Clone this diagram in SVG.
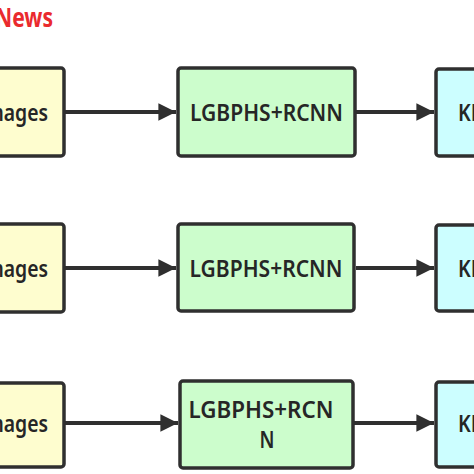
<svg xmlns="http://www.w3.org/2000/svg" width="474" height="474" viewBox="0 0 474 474">
<style>
.box{stroke:#2f2f2f;stroke-width:3.5}
.y{fill:#fefdcf}
.g{fill:#ccfdcc}
.b{fill:#ccfeff}
.t{font-family:"Noto Sans","Open Sans",sans-serif;font-weight:600;font-size:24px;fill:#262626}
.c{stroke:#2f2f2f;stroke-width:4;fill:none}
.title{font-family:"Noto Sans","Open Sans",sans-serif;font-weight:700;font-size:26px;fill:#ea2a2e}
</style>
<defs>
<marker id="ah" viewBox="0 0 10 10" refX="10" refY="5" markerWidth="4.6" markerHeight="4.4" markerUnits="strokeWidth" orient="auto">
<path d="M0,0 L10,5 L0,10 Z" fill="#2f2f2f"/>
</marker>
</defs>
<rect width="474" height="474" fill="#ffffff"/>
<text class="title" x="53" y="27" text-anchor="end" textLength="58" lengthAdjust="spacingAndGlyphs">News</text>
<g id="connectors">
<line class="c" x1="65" y1="112" x2="176" y2="112" marker-end="url(#ah)"/>
<line class="c" x1="356" y1="112" x2="434" y2="112" marker-end="url(#ah)"/>
<line class="c" x1="65" y1="268" x2="176" y2="268" marker-end="url(#ah)"/>
<line class="c" x1="356" y1="268" x2="434" y2="268" marker-end="url(#ah)"/>
<line class="c" x1="65" y1="423" x2="178" y2="423" marker-end="url(#ah)"/>
<line class="c" x1="354" y1="423" x2="434" y2="423" marker-end="url(#ah)"/>
</g>
<g id="images1"><rect class="box y" x="-60" y="68" width="124" height="88" rx="3"/><text class="t" x="48" y="121" text-anchor="end" textLength="70" lengthAdjust="spacingAndGlyphs">Images</text></g>
<g id="lgbphs1"><rect class="box g" x="178" y="68" width="177" height="88" rx="3"/><text class="t" x="266.5" y="121" text-anchor="middle" textLength="153" lengthAdjust="spacingAndGlyphs">LGBPHS+RCNN</text></g>
<g id="knn1"><rect class="box b" x="436" y="69" width="80" height="87" rx="3"/><text class="t" x="458" y="121" textLength="44" lengthAdjust="spacingAndGlyphs">KNN</text></g>
<g id="images2"><rect class="box y" x="-60" y="224" width="124" height="88" rx="3"/><text class="t" x="48" y="277" text-anchor="end" textLength="70" lengthAdjust="spacingAndGlyphs">Images</text></g>
<g id="lgbphs2"><rect class="box g" x="178" y="224" width="176" height="87" rx="3"/><text class="t" x="266" y="277" text-anchor="middle" textLength="153" lengthAdjust="spacingAndGlyphs">LGBPHS+RCNN</text></g>
<g id="knn2"><rect class="box b" x="436" y="225" width="80" height="86" rx="3"/><text class="t" x="458" y="277" textLength="44" lengthAdjust="spacingAndGlyphs">KNN</text></g>
<g id="images3"><rect class="box y" x="-60" y="383" width="124" height="84" rx="3"/><text class="t" x="48" y="432" text-anchor="end" textLength="70" lengthAdjust="spacingAndGlyphs">Images</text></g>
<g id="lgbphs3"><rect class="box g" x="180" y="381" width="173" height="87" rx="3"/><text class="t" x="261" y="418" text-anchor="middle" textLength="145" lengthAdjust="spacingAndGlyphs">LGBPHS+RCN</text><text class="t" x="267" y="448" text-anchor="middle" textLength="15" lengthAdjust="spacingAndGlyphs">N</text></g>
<g id="knn3"><rect class="box b" x="436" y="382" width="80" height="85" rx="3"/><text class="t" x="458" y="432" textLength="44" lengthAdjust="spacingAndGlyphs">KNN</text></g>
</svg>
